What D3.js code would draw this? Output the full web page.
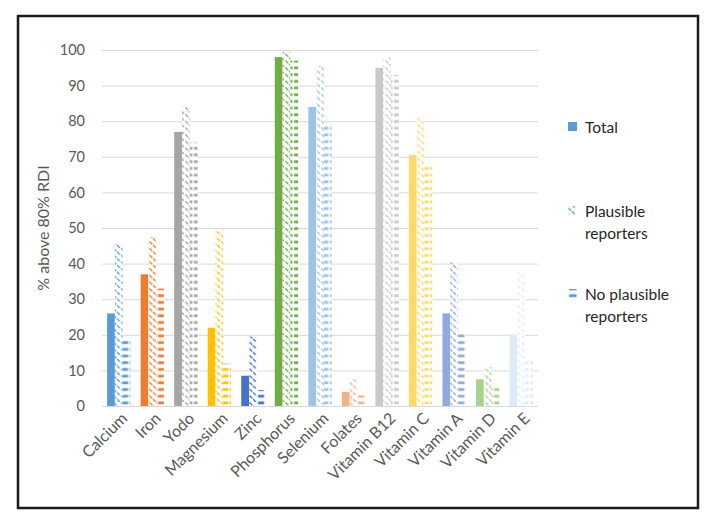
<!DOCTYPE html>
<html>
<head>
<meta charset="utf-8">
<script src="https://cdn.jsdelivr.net/npm/d3@7"></script>
<style>
  body { margin: 0; background: #fff; }
  svg { display: block; font-family: Lato, "Open Sans", sans-serif; }
  .tick text { fill: #595959; }
</style>
</head>
<body>
<svg id="chart" width="714" height="523"></svg>
<script>
// values
const categories = ["Calcium", "Iron", "Yodo", "Magnesium", "Zinc", "Phosphorus", "Selenium",
  "Folates", "Vitamin B12", "Vitamin C", "Vitamin A", "Vitamin D", "Vitamin E"];
const total = [26, 37, 77, 22, 8.5, 98, 84, 4, 95, 70.5, 26, 7.5, 20];
const plausible = [45.5, 47.5, 84, 49.5, 19.5, 99.5, 95.5, 7.5, 98, 81, 40.5, 11, 38];
const noPlausible = [18.5, 33, 74, 12, 4.5, 97, 79.5, 3, 93, 67.5, 20.5, 5.5, 13];
const seriesNames = ["Total", "Plausible reporters", "No plausible reporters"];
const barColors = ["#5B9BD5", "#ED7D31", "#A5A5A5", "#FFC000", "#4472C4", "#70AD47", "#9DC3E6",
  "#F4B183", "#C9C9C9", "#FFD966", "#8FAADC", "#A9D18E", "#DEEBF7"];
const yTicks = [0, 10, 20, 30, 40, 50, 60, 70, 80, 90, 100];

const svg = d3.select("#chart");
const defs = svg.append("defs");

const plotLeft = 102, plotRight = 538, plotTop = 50, plotBottom = 406;

const x = d3.scaleBand().domain(categories).range([plotLeft, plotRight]).paddingInner(0.304).paddingOuter(0.152);
const xs = d3.scaleBand().domain([0, 1, 2]).range([0, x.bandwidth()]);
const y = d3.scaleLinear().domain([0, 100]).range([plotBottom, plotTop]);

const seriesValues = [total, plausible, noPlausible];
const period = 6.7;

// frame
svg.append("rect")
  .attr("x", 18).attr("y", 16).attr("width", 680).attr("height", 492)
  .attr("fill", "none").attr("stroke", "#1a1a1a").attr("stroke-width", 2.5);

// gridlines
svg.append("g")
  .selectAll("line")
  .data(yTicks)
  .join("line")
  .attr("x1", plotLeft).attr("x2", plotRight)
  .attr("y1", d => y(d) + 0.5).attr("y2", d => y(d) + 0.5)
  .attr("stroke", "#d9d9d9").attr("stroke-width", 1);

// y axis labels
const yAxis = svg.append("g")
  .attr("transform", "translate(" + (plotLeft - 6) + ",0)")
  .call(d3.axisLeft(y).tickValues(yTicks).tickSize(0).tickPadding(11));
yAxis.select(".domain").remove();
yAxis.selectAll("text").attr("font-size", 14.5).attr("font-family", "Lato, sans-serif");

// patterns, one pair per category so the hatch lines up with each bar
function makePatterns(id, color, bx, w) {
  const pd = defs.append("pattern")
    .attr("id", "diag" + id)
    .attr("patternUnits", "userSpaceOnUse")
    .attr("x", bx).attr("y", 0)
    .attr("width", w).attr("height", period);
  pd.append("rect").attr("width", w).attr("height", period).attr("fill", "#fff");
  [[0.4, 0.4, 3.2, 3.2], [4.0, 3.8, 6.8, 6.6]].forEach(s => {
    pd.append("line")
      .attr("x1", s[0]).attr("y1", s[1]).attr("x2", s[2]).attr("y2", s[3])
      .attr("stroke", color).attr("stroke-width", 1.4);
  });

  const ph = defs.append("pattern")
    .attr("id", "horz" + id)
    .attr("patternUnits", "userSpaceOnUse")
    .attr("x", bx).attr("y", plotBottom - period)
    .attr("width", w).attr("height", period);
  ph.append("rect").attr("width", w).attr("height", period).attr("fill", "#fff");
  ph.append("rect")
    .attr("x", 1.2).attr("y", 2.2).attr("width", w - 1.6).attr("height", 2.8)
    .attr("fill", color);
}

categories.forEach((c, i) => {
  const bx = x(c);
  makePatterns("p1_" + i, barColors[i], bx + xs(1), xs.bandwidth());
  makePatterns("p2_" + i, barColors[i], bx + xs(2), xs.bandwidth());
});

function fillFor(s, i) {
  if (s === 0) return barColors[i];
  if (s === 1) return "url(#diagp1_" + i + ")";
  return "url(#horzp2_" + i + ")";
}

// bars
const groups = svg.append("g")
  .selectAll("g")
  .data(categories)
  .join("g")
  .attr("transform", d => "translate(" + x(d) + ",0)");

groups.selectAll("rect")
  .data((d, i) => seriesValues.map((vals, s) => ({ s: s, i: i, v: vals[i] })))
  .join("rect")
  .attr("x", d => xs(d.s))
  .attr("width", xs.bandwidth())
  .attr("y", d => y(d.v))
  .attr("height", d => y(0) - y(d.v))
  .attr("fill", d => fillFor(d.s, d.i));

// x labels
svg.append("g")
  .selectAll("text")
  .data(categories)
  .join("text")
  .attr("transform", d => "translate(" + (x(d) + x.bandwidth() / 2 + 1) + "," + 411 + ") rotate(-45)")
  .attr("text-anchor", "end")
  .attr("dy", "0.75em")
  .attr("font-size", 16)
  .attr("fill", "#595959")
  .text(d => d);

// y title
svg.append("text")
  .attr("transform", "translate(49,228) rotate(-90)")
  .attr("text-anchor", "middle")
  .attr("font-size", 16)
  .attr("fill", "#595959")
  .text("% above 80% RDI");

// legend
const legendRows = [
  { lines: ["Total"], y: 133 },
  { lines: ["Plausible", "reporters"], y: 217 },
  { lines: ["No plausible", "reporters"], y: 300 }
];
makePatterns("leg1", barColors[0], 568, 9);
makePatterns("leg2", barColors[0], 568, 9);

const legend = svg.append("g").selectAll("g")
  .data(legendRows)
  .join("g");

legend.append("rect")
  .attr("x", 568)
  .attr("y", d => d.y - 11)
  .attr("width", 9).attr("height", 9)
  .attr("fill", (d, i) => i === 0 ? barColors[0] : (i === 1 ? "url(#diagleg1)" : "url(#horzleg2)"));

legend.append("text")
  .attr("x", 585)
  .attr("y", d => d.y)
  .attr("font-size", 15.5)
  .attr("fill", "#262626")
  .selectAll("tspan")
  .data(d => d.lines)
  .join("tspan")
  .attr("x", 585)
  .attr("dy", (d, i) => i === 0 ? 0 : 22)
  .text(d => d);
</script>
</body>
</html>
